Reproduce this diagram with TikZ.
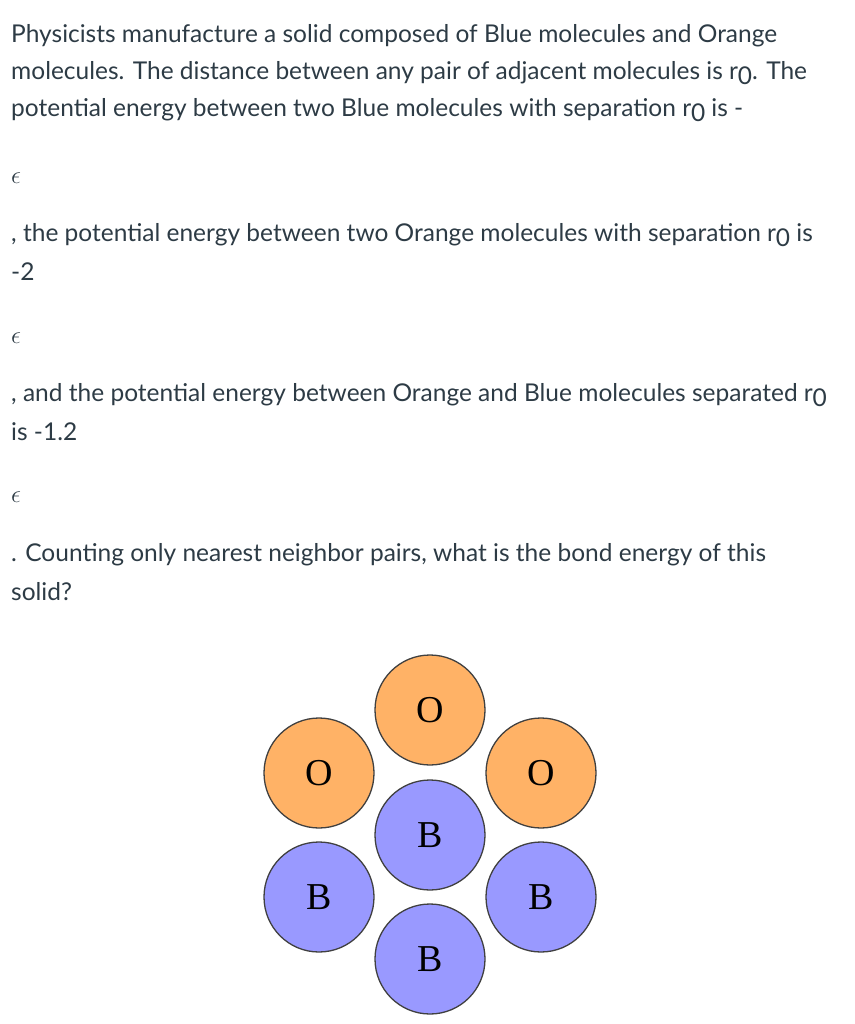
\documentclass[tikz,border=0pt]{standalone}
\usepackage{fontspec}
\setmainfont{Lato}
\newfontfamily\molfont{Liberation Serif}
\usetikzlibrary{positioning}
\definecolor{OrangeMol}{RGB}{255,178,102}
\definecolor{BlueMol}{RGB}{153,153,255}
\definecolor{TextGrey}{RGB}{45,59,69}
\newcommand{\rnought}{r\raisebox{-0.35ex}{0}}

\begin{document}
\begin{tikzpicture}[x=1pt,y=-1pt,
    line/.style={anchor=west, inner sep=0, font=\fontsize{24.5}{29}\selectfont, text=TextGrey},
    eps/.style={anchor=west, inner sep=0, font=\fontsize{26}{30}\selectfont, text=TextGrey},
    mol/.style={circle, draw=black!75, line width=1.3pt, minimum size=110, inner sep=0, font=\molfont\fontsize{38}{38}\selectfont}]
    \useasboundingbox (0,0) rectangle (854,1024);
    % question text
    \node[line] (l1) at (11,36) {Physicists manufacture a solid composed of Blue molecules and Orange};
    \node[line] (l2) at (11,73) {molecules. The distance between any pair of adjacent molecules is \rnought. The};
    \node[line] (l3) at (11,110) {potential energy between two Blue molecules with separation \rnought\ is -};
    \node[eps] (e1) at (11,178) {$\epsilon$};
    \node[line] (l4) at (11,235) {, the potential energy between two Orange molecules with separation \rnought\ is};
    \node[line] (l5) at (11,272) {-2};
    \node[eps] (e2) at (11,338) {$\epsilon$};
    \node[line] (l6) at (11,395) {, and the potential energy between Orange and Blue molecules separated \rnought};
    \node[line] (l7) at (11,432) {is -1.2};
    \node[eps] (e3) at (11,497) {$\epsilon$};
    \node[line] (l8) at (11,555) {. Counting only nearest neighbor pairs, what is the bond energy of this};
    \node[line] (l9) at (11,592) {solid?};
    % molecules
    \node[mol, fill=OrangeMol] (otop) at (430,710) {O};
    \node[mol, fill=OrangeMol] (oleft) at (319,773) {O};
    \node[mol, fill=OrangeMol] (oright) at (541,773) {O};
    \node[mol, fill=BlueMol] (bmid) at (430,835) {B};
    \node[mol, fill=BlueMol] (bleft) at (319,897) {B};
    \node[mol, fill=BlueMol] (bright) at (541,897) {B};
    \node[mol, fill=BlueMol] (bbot) at (430,959) {B};
\end{tikzpicture}
\end{document}
